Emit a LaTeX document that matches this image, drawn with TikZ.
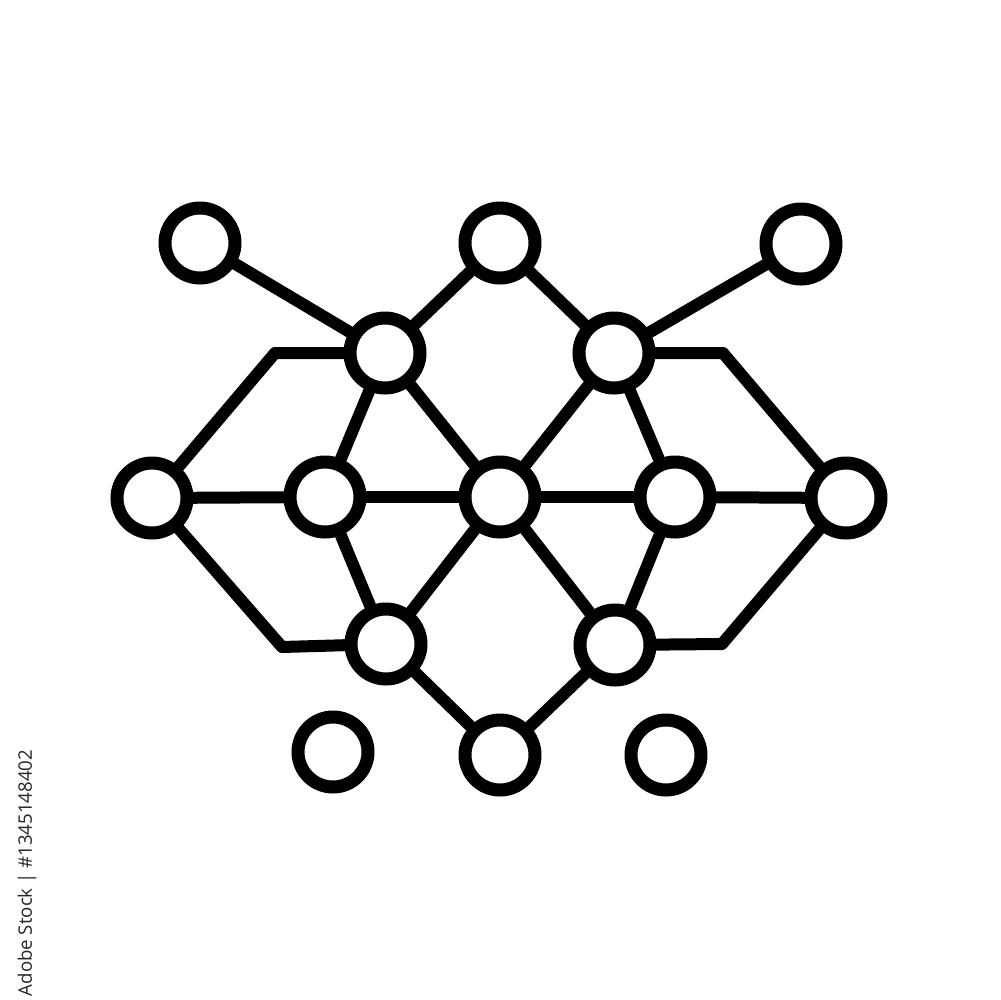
\documentclass[tikz,border=0pt]{standalone}
\usepackage{fontspec}
\newfontfamily\wmfont{Open Sans}
\begin{document}
\begin{tikzpicture}[x=0.1mm,y=-0.1mm,
  nd/.style={circle,draw=black,fill=white,line width=1.3mm,inner sep=0pt,minimum size=7.0mm},
  ed/.style={draw=black,line width=1.2mm,line join=round,line cap=round}]
\useasboundingbox[fill=white] (0,0) rectangle (1000,1000);
% nodes
\node[nd] (tl) at (200,243) {};
\node[nd] (tm) at (500,243) {};
\node[nd] (tr) at (801,244) {};
\node[nd] (ul) at (385,353) {};
\node[nd] (ur) at (614,353) {};
\node[nd] (m1) at (152,498) {};
\node[nd] (m2) at (325,497) {};
\node[nd] (m3) at (500,497) {};
\node[nd] (m4) at (675,497) {};
\node[nd] (m5) at (846,498) {};
\node[nd] (ll) at (386,644) {};
\node[nd] (lr) at (615,645) {};
\node[nd] (b1) at (333,752) {};
\node[nd] (b2) at (500,755) {};
\node[nd] (b3) at (666,755) {};
% hex corners
\coordinate (hul) at (275,353);
\coordinate (hll) at (282,647);
\coordinate (hur) at (723,353);
\coordinate (hlr) at (722,644);
% edges
\path[ed] (tl) -- (ul);
\path[ed] (tm) -- (ul);
\path[ed] (tm) -- (ur);
\path[ed] (tr) -- (ur);
\path[ed] (ul) -- (m2);
\path[ed] (ul) -- (m3);
\path[ed] (ur) -- (m3);
\path[ed] (ur) -- (m4);
\path[ed] (m1) -- (m2);
\path[ed] (m2) -- (m3);
\path[ed] (m3) -- (m4);
\path[ed] (m4) -- (m5);
\path[ed] (ll) -- (m2);
\path[ed] (ll) -- (m3);
\path[ed] (lr) -- (m3);
\path[ed] (lr) -- (m4);
\path[ed] (ll) -- (b2);
\path[ed] (lr) -- (b2);
\path[ed] (m1) -- (hul) -- (ul);
\path[ed] (m1) -- (hll) -- (ll);
\path[ed] (ur) -- (hur) -- (m5);
\path[ed] (lr) -- (hlr) -- (m5);
% watermark label
\node[rotate=90,text=black!85,font=\wmfont\fontsize{5.3}{6}\selectfont,inner sep=0pt] (wm) at (27,873) {Adobe Stock | \#1345148402};
\end{tikzpicture}
\end{document}
